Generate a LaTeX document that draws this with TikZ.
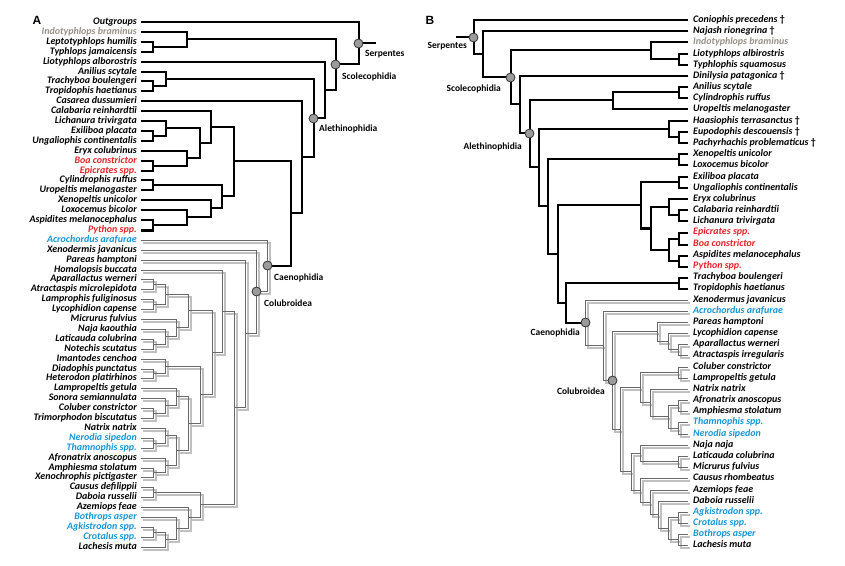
\documentclass[tikz,border=0pt]{standalone}
\usepackage{fontspec}
\setmainfont{Carlito}
\newfontfamily\panelfont{Liberation Sans}
\usetikzlibrary{calc}
\definecolor{sred}{RGB}{230,35,40}
\definecolor{sblue}{RGB}{20,150,215}
\definecolor{sgray}{RGB}{150,145,135}
\definecolor{nodegray}{RGB}{155,155,155}
\definecolor{dgray}{RGB}{105,105,105}
\definecolor{lgray}{RGB}{192,192,192}
\newdimen\mkjoindim
\newcommand\mkjoin[4]{%
  \path ($(#3)!0.5!(#4)$) coordinate (mkjointmp);%
  \pgfextracty{\mkjoindim}{\pgfpointanchor{mkjointmp}{center}}%
  \pgfmathsetmacro\mkjoiny{floor(-\mkjoindim/1.00375)+0.5}%
  \coordinate (#1) at (#2,\mkjoiny);}
\newcommand\gpathA{(LA23.east) -| (aCaen) (aColub) -| (aCaen) (LA24.east) -| (aColub) (cPar) -| (aColub) (LA25.east) -| (cPar) (cO) -| (cPar)
  (cHom) -| (cO) (cVip) -| (cO) (LA26.east) -| (cHom) (cK) -| (cHom) (cA) -| (cK) (cDip) -| (cK) (c27b) -| (cA) (c31) -| (cA)
  (c27) -| (c27b) (c29) -| (c27b) (LA27.east) -| (c27) (LA28.east) -| (c27) (LA29.east) -| (c29) (LA30.east) -| (c29)
  (LA31.east) -| (c31) (c32) -| (c31) (LA32.east) -| (c32) (c33) -| (c32) (LA33.east) -| (c33) (LA34.east) -| (c33)
  (c35) -| (cDip) (cCol) -| (cDip) (LA35.east) -| (c35) (c36) -| (c35) (LA36.east) -| (c36) (LA37.east) -| (c36)
  (c38) -| (cCol) (cNat) -| (cCol) (LA38.east) -| (c38) (c39) -| (c38) (LA39.east) -| (c39) (c40) -| (c39) (LA40.east) -| (c40) (LA41.east) -| (c40)
  (c42) -| (cNat) (c45) -| (cNat) (LA42.east) -| (c42) (c43) -| (c42) (LA43.east) -| (c43) (LA44.east) -| (c43)
  (LA45.east) -| (c45) (c46) -| (c45) (LA46.east) -| (c46) (LA47.east) -| (c46)
  (c48) -| (cVip) (c50) -| (cVip) (LA48.east) -| (c48) (LA49.east) -| (c48) (LA50.east) -| (c50) (c51) -| (c50)
  (LA51.east) -| (c51) (c52b) -| (c51) (c52) -| (c52b) (LA54.east) -| (c52b) (LA52.east) -| (c52) (LA53.east) -| (c52)}
\newcommand\gpathB{(LB26.west) -| (bCaen) (b27) -| (bCaen) (LB27.west) -| (b27) (bColubroidea) -| (b27) (b28) -| (bColubroidea) (bCE) -| (bColubroidea)
  (LB28.west) -| (b28) (b29) -| (b28) (LB29.west) -| (b29) (b30) -| (b29) (LB30.west) -| (b30) (LB31.west) -| (b30)
  (bColub) -| (bCE) (bEV) -| (bCE) (b32) -| (bColub) (b34) -| (bColub) (LB32.west) -| (b32) (LB33.west) -| (b32)
  (LB34.west) -| (b34) (b35b) -| (b34) (b35) -| (b35b) (b37) -| (b35b) (LB35.west) -| (b35) (LB36.west) -| (b35) (LB37.west) -| (b37) (LB38.west) -| (b37)
  (b39) -| (bEV) (b42) -| (bEV) (LB39.west) -| (b39) (b40) -| (b39) (LB40.west) -| (b40) (LB41.west) -| (b40)
  (LB42.west) -| (b42) (b43) -| (b42) (LB43.west) -| (b43) (b44) -| (b43) (LB44.west) -| (b44) (b45b) -| (b44)
  (b45) -| (b45b) (b47) -| (b45b) (LB45.west) -| (b45) (LB46.west) -| (b45) (LB47.west) -| (b47) (LB48.west) -| (b47)}
\begin{document}
\begin{tikzpicture}[x=1bp,y=-1bp,
  leaf/.style={font=\bfseries\itshape\fontsize{10}{12}\selectfont, text height=7pt, text depth=2pt, inner ysep=0pt},
  la/.style={leaf, anchor=east, inner xsep=4bp},
  lb/.style={leaf, anchor=west, inner xsep=5bp},
  blk/.style={draw=black, line width=2bp},
  gline/.style={draw=dgray, line width=1bp},
  gshadow/.style={draw=lgray, line width=1.6bp, transform canvas={shift={(2.3bp,-2.3bp)}}},
  clade/.style={circle, draw=black!80, fill=nodegray, line width=0.8bp, minimum size=9bp, inner sep=0pt},
  cl/.style={font=\bfseries\fontsize{9.5}{11}\selectfont, inner sep=1pt},
  panel/.style={font=\panelfont\bfseries\fontsize{12}{14}\selectfont, inner sep=0pt}]
\useasboundingbox (0,0) rectangle (845,566);
\node[panel] (pA) at (37,20) {A};
\node[panel] (pB) at (430,20) {B};
% ---------------- Tree A leaves
\node[la] (LA1) at (141,22.5) {Outgroups};
\node[la,text=sgray] (LA2) at (141,32.5) {Indotyphlops braminus};
\node[la] (LA3) at (141,42.5) {Leptotyphlops humilis};
\node[la] (LA4) at (141,52.5) {Typhlops jamaicensis};
\node[la] (LA5) at (141,62.5) {Liotyphlops alborostris};
\node[la] (LA6) at (141,72.5) {Anilius scytale};
\node[la] (LA7) at (141,81.5) {Trachyboa boulengeri};
\node[la] (LA8) at (141,91.5) {Tropidophis haetianus};
\node[la] (LA9) at (141,101.5) {Casarea dussumieri};
\node[la] (LA10) at (141,111.5) {Calabaria reinhardtii};
\node[la] (LA11) at (141,121.5) {Lichanura trivirgata};
\node[la] (LA12) at (141,131.5) {Exiliboa placata};
\node[la] (LA13) at (141,141.5) {Ungaliophis continentalis};
\node[la] (LA14) at (141,151.5) {Eryx colubrinus};
\node[la,text=sred] (LA15) at (141,161.5) {Boa constrictor};
\node[la,text=sred] (LA16) at (141,171.5) {Epicrates spp.};
\node[la] (LA17) at (141,180.5) {Cylindrophis ruffus};
\node[la] (LA18) at (141,190.5) {Uropeltis melanogaster};
\node[la] (LA19) at (141,200.5) {Xenopeltis unicolor};
\node[la] (LA20) at (141,210.5) {Loxocemus bicolor};
\node[la] (LA21) at (141,220.5) {Aspidites melanocephalus};
\node[la,text=sred] (LA22) at (141,230.5) {Python spp.};
\node[la,text=sblue] (LA23) at (141,240.5) {Acrochordus arafurae};
\node[la] (LA24) at (141,250.5) {Xenodermis javanicus};
\node[la] (LA25) at (141,260.5) {Pareas hamptoni};
\node[la] (LA26) at (141,270.5) {Homalopsis buccata};
\node[la] (LA27) at (141,279.5) {Aparallactus werneri};
\node[la] (LA28) at (141,289.5) {Atractaspis microlepidota};
\node[la] (LA29) at (141,299.5) {Lamprophis fuliginosus};
\node[la] (LA30) at (141,309.5) {Lycophidion capense};
\node[la] (LA31) at (141,319.5) {Micrurus fulvius};
\node[la] (LA32) at (141,329.5) {Naja kaouthia};
\node[la] (LA33) at (141,339.5) {Laticauda colubrina};
\node[la] (LA34) at (141,349.5) {Notechis scutatus};
\node[la] (LA35) at (141,359.5) {Imantodes cenchoa};
\node[la] (LA36) at (141,369.5) {Diadophis punctatus};
\node[la] (LA37) at (141,378.5) {Heterodon platirhinos};
\node[la] (LA38) at (141,388.5) {Lampropeltis getula};
\node[la] (LA39) at (141,398.5) {Sonora semiannulata};
\node[la] (LA40) at (141,408.5) {Coluber constrictor};
\node[la] (LA41) at (141,418.5) {Trimorphodon biscutatus};
\node[la] (LA42) at (141,428.5) {Natrix natrix};
\node[la,text=sblue] (LA43) at (141,438.5) {Nerodia sipedon};
\node[la,text=sblue] (LA44) at (141,448.5) {Thamnophis spp.};
\node[la] (LA45) at (141,458.5) {Afronatrix anoscopus};
\node[la] (LA46) at (141,468.5) {Amphiesma stolatum};
\node[la] (LA47) at (141,477.5) {Xenochrophis pictigaster};
\node[la] (LA48) at (141,487.5) {Causus defilippii};
\node[la] (LA49) at (141,497.5) {Daboia russelii};
\node[la] (LA50) at (141,507.5) {Azemiops feae};
\node[la,text=sblue] (LA51) at (141,517.5) {Bothrops asper};
\node[la,text=sblue] (LA52) at (141,527.5) {Agkistrodon spp.};
\node[la,text=sblue] (LA53) at (141,537.5) {Crotalus spp.};
\node[la] (LA54) at (141,547.5) {Lachesis muta};
% ---------------- Tree A joins
\mkjoin{a3x4}{152.5}{LA3.east}{LA4.east}
\mkjoin{a2x}{186.5}{LA2.east}{a3x4}
\mkjoin{a7x8}{152.5}{LA7.east}{LA8.east}
\mkjoin{a6x}{165.5}{LA6.east}{a7x8}
\mkjoin{a12x13}{152.5}{LA12.east}{LA13.east}
\mkjoin{a11x}{165.5}{LA11.east}{a12x13}
\mkjoin{a15x16}{152.5}{LA15.east}{LA16.east}
\mkjoin{a14x}{186.5}{LA14.east}{a15x16}
\mkjoin{aLichEryx}{199.5}{a11x}{a14x}
\mkjoin{aCal}{210.5}{LA10.east}{aLichEryx}
\mkjoin{a17x18}{152.5}{LA17.east}{LA18.east}
\mkjoin{a21x22}{152.5}{LA21.east}{LA22.east}
\mkjoin{a20x}{186.5}{LA20.east}{a21x22}
\mkjoin{aXen}{210.5}{LA19.east}{a20x}
\mkjoin{aCyl}{221.5}{a17x18}{aXen}
\mkjoin{aBoid}{233.5}{aCal}{aCyl}
\mkjoin{c27}{153.5}{LA27.east}{LA28.east}
\mkjoin{c29}{153.5}{LA29.east}{LA30.east}
\mkjoin{c27b}{165.5}{c27}{c29}
\mkjoin{c33}{153.5}{LA33.east}{LA34.east}
\mkjoin{c32}{165.5}{LA32.east}{c33}
\mkjoin{c31}{176.5}{LA31.east}{c32}
\mkjoin{cA}{188.5}{c27b}{c31}
\mkjoin{c36}{153.5}{LA36.east}{LA37.east}
\mkjoin{c35}{165.5}{LA35.east}{c36}
\mkjoin{c40}{153.5}{LA40.east}{LA41.east}
\mkjoin{c39}{165.5}{LA39.east}{c40}
\mkjoin{c38}{176.5}{LA38.east}{c39}
\mkjoin{c43}{153.5}{LA43.east}{LA44.east}
\mkjoin{c42}{165.5}{LA42.east}{c43}
\mkjoin{c46}{153.5}{LA46.east}{LA47.east}
\mkjoin{c45}{165.5}{LA45.east}{c46}
\mkjoin{cNat}{176.5}{c42}{c45}
\mkjoin{cCol}{188.5}{c38}{cNat}
\mkjoin{cDip}{200.5}{c35}{cCol}
\mkjoin{cK}{212.5}{cA}{cDip}
\mkjoin{cHom}{222.5}{LA26.east}{cK}
\mkjoin{c48}{153.5}{LA48.east}{LA49.east}
\mkjoin{c52}{153.5}{LA52.east}{LA53.east}
\mkjoin{c52b}{165.5}{c52}{LA54.east}
\mkjoin{c51}{176.5}{LA51.east}{c52b}
\mkjoin{c50}{188.5}{LA50.east}{c51}
\mkjoin{cVip}{200.5}{c48}{c50}
\mkjoin{cO}{234.5}{cHom}{cVip}
\mkjoin{cPar}{245.5}{LA25.east}{cO}
\mkjoin{aColub}{256.5}{LA24.east}{cPar}
\mkjoin{aCaen}{267.5}{LA23.east}{aColub}
\mkjoin{aMacro}{290.5}{aBoid}{aCaen}
\mkjoin{aCas}{301.5}{LA9.east}{aMacro}
\mkjoin{aAleth}{313.5}{a6x}{aCas}
\mkjoin{aLio}{324.5}{LA5.east}{aAleth}
\mkjoin{aScol}{335.5}{a2x}{aLio}
\mkjoin{aSerp}{358.5}{LA1.east}{aScol}
% ---------------- Tree A branches
\draw[gshadow] \gpathA;
\draw[gline] \gpathA;
\draw[blk] (LA1.east) -| (aSerp) (LA2.east) -| (a2x) (LA3.east) -| (a3x4) (LA4.east) -| (a3x4) (a3x4) -| (a2x) (a2x) -| (aScol)
  (LA5.east) -| (aLio) (LA6.east) -| (a6x) (LA7.east) -| (a7x8) (LA8.east) -| (a7x8) (a7x8) -| (a6x) (a6x) -| (aAleth)
  (LA9.east) -| (aCas) (LA10.east) -| (aCal) (LA11.east) -| (a11x) (LA12.east) -| (a12x13) (LA13.east) -| (a12x13) (a12x13) -| (a11x)
  (a11x) -| (aLichEryx) (LA14.east) -| (a14x) (LA15.east) -| (a15x16) (LA16.east) -| (a15x16) (a15x16) -| (a14x) (a14x) -| (aLichEryx)
  (aLichEryx) -| (aCal) (aCal) -| (aBoid) (LA17.east) -| (a17x18) (LA18.east) -| (a17x18) (a17x18) -| (aCyl)
  (LA19.east) -| (aXen) (LA20.east) -| (a20x) (LA21.east) -| (a21x22) (LA22.east) -| (a21x22) (a21x22) -| (a20x) (a20x) -| (aXen)
  (aXen) -| (aCyl) (aCyl) -| (aBoid) (aBoid) -| (aMacro) (aCaen) -| (aMacro) (aMacro) -| (aCas) (aCas) -| (aAleth)
  (aAleth) -| (aLio) (aLio) -| (aScol) (aScol) -| (aSerp) (aSerp) -- ++(17,0) coordinate (aRoot);
\node[clade] (kSerpA) at (aSerp) {};
\node[clade] (kScolA) at (aScol) {};
\node[clade] (kAlethA) at (aAleth) {};
\node[clade] (kCaenA) at (aCaen) {};
\node[clade] (kColA) at (aColub) {};
\node[cl,anchor=west] (tSerpA) at (364,54) {Serpentes};
\node[cl,anchor=west] (tScolA) at (341,77) {Scolecophidia};
\node[cl,anchor=west] (tAlethA) at (318,129) {Alethinophidia};
\node[cl,anchor=west] (tCaenA) at (273,278) {Caenophidia};
\node[cl,anchor=west] (tColA) at (263,303) {Colubroidea};
% ---------------- Tree B leaves
\node[lb] (LB1) at (688,20.5) {Coniophis precedens \textup{†}};
\node[lb] (LB2) at (688,31.5) {Najash rionegrina \textup{†}};
\node[lb,text=sgray] (LB3) at (688,42.5) {Indotyphlops braminus};
\node[lb] (LB4) at (688,54.5) {Liotyphlops albirostris};
\node[lb] (LB5) at (688,65.5) {Typhlophis squamosus};
\node[lb] (LB6) at (688,76.5) {Dinilysia patagonica \textup{†}};
\node[lb] (LB7) at (688,87.5) {Anilius scytale};
\node[lb] (LB8) at (688,98.5) {Cylindrophis ruffus};
\node[lb] (LB9) at (688,109.5) {Uropeltis melanogaster};
\node[lb] (LB10) at (688,121.5) {Haasiophis terrasanctus \textup{†}};
\node[lb] (LB11) at (688,132.5) {Eupodophis descouensis \textup{†}};
\node[lb] (LB12) at (688,143.5) {Pachyrhachis problematicus \textup{†}};
\node[lb] (LB13) at (688,154.5) {Xenopeltis unicolor};
\node[lb] (LB14) at (688,165.5) {Loxocemus bicolor};
\node[lb] (LB15) at (688,177.5) {Exiliboa placata};
\node[lb] (LB16) at (688,188.5) {Ungaliophis continentalis};
\node[lb] (LB17) at (688,199.5) {Eryx colubrinus};
\node[lb] (LB18) at (688,210.5) {Calabaria reinhardtii};
\node[lb] (LB19) at (688,221.5) {Lichanura trivirgata};
\node[lb,text=sred] (LB20) at (688,232.5) {Epicrates spp.};
\node[lb,text=sred] (LB21) at (688,244.5) {Boa constrictor};
\node[lb] (LB22) at (688,255.5) {Aspidites melanocephalus};
\node[lb,text=sred] (LB23) at (688,266.5) {Python spp.};
\node[lb] (LB24) at (688,277.5) {Trachyboa boulengeri};
\node[lb] (LB25) at (688,288.5) {Tropidophis haetianus};
\node[lb] (LB26) at (688,300.5) {Xenodermus javanicus};
\node[lb,text=sblue] (LB27) at (688,311.5) {Acrochordus arafurae};
\node[lb] (LB28) at (688,322.5) {Pareas hamptoni};
\node[lb] (LB29) at (688,333.5) {Lycophidion capense};
\node[lb] (LB30) at (688,344.5) {Aparallactus werneri};
\node[lb] (LB31) at (688,355.5) {Atractaspis irregularis};
\node[lb] (LB32) at (688,367.5) {Coluber constrictor};
\node[lb] (LB33) at (688,378.5) {Lampropeltis getula};
\node[lb] (LB34) at (688,389.5) {Natrix natrix};
\node[lb] (LB35) at (688,400.5) {Afronatrix anoscopus};
\node[lb] (LB36) at (688,411.5) {Amphiesma stolatum};
\node[lb,text=sblue] (LB37) at (688,422.5) {Thamnophis spp.};
\node[lb,text=sblue] (LB38) at (688,434.5) {Nerodia sipedon};
\node[lb] (LB39) at (688,445.5) {Naja naja};
\node[lb] (LB40) at (688,456.5) {Laticauda colubrina};
\node[lb] (LB41) at (688,467.5) {Micrurus fulvius};
\node[lb] (LB42) at (688,478.5) {Causus rhombeatus};
\node[lb] (LB43) at (688,490.5) {Azemiops feae};
\node[lb] (LB44) at (688,501.5) {Daboia russelii};
\node[lb,text=sblue] (LB45) at (688,512.5) {Agkistrodon spp.};
\node[lb,text=sblue] (LB46) at (688,523.5) {Crotalus spp.};
\node[lb,text=sblue] (LB47) at (688,534.5) {Bothrops asper};
\node[lb] (LB48) at (688,545.5) {Lachesis muta};
% ---------------- Tree B joins
\mkjoin{b4}{678.5}{LB4.west}{LB5.west}
\mkjoin{b3}{650.5}{LB3.west}{b4}
\mkjoin{b7}{678.5}{LB7.west}{LB8.west}
\mkjoin{b7b}{612.5}{b7}{LB9.west}
\mkjoin{b11}{678.5}{LB11.west}{LB12.west}
\mkjoin{b10}{668.5}{LB10.west}{b11}
\mkjoin{b13}{678.5}{LB13.west}{LB14.west}
\mkjoin{b15}{678.5}{LB15.west}{LB16.west}
\mkjoin{b18}{678.5}{LB18.west}{LB19.west}
\mkjoin{b17}{668.5}{LB17.west}{b18}
\mkjoin{b20}{678.5}{LB20.west}{LB21.west}
\mkjoin{b22}{678.5}{LB22.west}{LB23.west}
\mkjoin{b20b}{668.5}{b20}{b22}
\mkjoin{bBoi}{650.5}{b17}{b20b}
\mkjoin{bBoa}{640.5}{b15}{bBoi}
\mkjoin{b24}{678.5}{LB24.west}{LB25.west}
\mkjoin{b30}{678.5}{LB30.west}{LB31.west}
\mkjoin{b29}{668.5}{LB29.west}{b30}
\mkjoin{b28}{657.5}{LB28.west}{b29}
\mkjoin{b32}{678.5}{LB32.west}{LB33.west}
\mkjoin{b35}{678.5}{LB35.west}{LB36.west}
\mkjoin{b37}{678.5}{LB37.west}{LB38.west}
\mkjoin{b35b}{668.5}{b35}{b37}
\mkjoin{b34}{650.5}{LB34.west}{b35b}
\mkjoin{bColub}{640.5}{b32}{b34}
\mkjoin{b40}{678.5}{LB40.west}{LB41.west}
\mkjoin{b39}{640.5}{LB39.west}{b40}
\mkjoin{b45}{678.5}{LB45.west}{LB46.west}
\mkjoin{b47}{678.5}{LB47.west}{LB48.west}
\mkjoin{b45b}{668.5}{b45}{b47}
\mkjoin{b44}{658.5}{LB44.west}{b45b}
\mkjoin{b43}{650.5}{LB43.west}{b44}
\mkjoin{b42}{640.5}{LB42.west}{b43}
\mkjoin{bEV}{631.5}{b39}{b42}
\mkjoin{bCE}{620.5}{bColub}{bEV}
\mkjoin{bColubroidea}{612.5}{b28}{bCE}
\mkjoin{b27}{603.5}{LB27.west}{bColubroidea}
\mkjoin{bCaen}{585.5}{LB26.west}{b27}
\mkjoin{bTrop}{565.5}{b24}{bCaen}
\mkjoin{bMac}{557.5}{bBoa}{bTrop}
\mkjoin{bXen}{547.5}{b13}{bMac}
\mkjoin{bHaa}{538.5}{b10}{bXen}
\mkjoin{bAleth}{529.5}{b7b}{bHaa}
\mkjoin{bDin}{519.5}{LB6.west}{bAleth}
\mkjoin{bScol}{510.5}{b3}{bDin}
\mkjoin{bNaj}{482.5}{LB2.west}{bScol}
\mkjoin{bSerp}{473.5}{LB1.west}{bNaj}
% ---------------- Tree B branches
\draw[gshadow] \gpathB;
\draw[gline] \gpathB;
\draw[blk] (LB1.west) -| (bSerp) (LB2.west) -| (bNaj) (LB3.west) -| (b3) (LB4.west) -| (b4) (LB5.west) -| (b4) (b4) -| (b3) (b3) -| (bScol)
  (LB6.west) -| (bDin) (LB7.west) -| (b7) (LB8.west) -| (b7) (b7) -| (b7b) (LB9.west) -| (b7b) (b7b) -| (bAleth)
  (LB10.west) -| (b10) (LB11.west) -| (b11) (LB12.west) -| (b11) (b11) -| (b10) (b10) -| (bHaa)
  (LB13.west) -| (b13) (LB14.west) -| (b13) (b13) -| (bXen)
  (LB15.west) -| (b15) (LB16.west) -| (b15) (b15) -| (bBoa) (LB17.west) -| (b17) (LB18.west) -| (b18) (LB19.west) -| (b18) (b18) -| (b17) (b17) -| (bBoi)
  (LB20.west) -| (b20) (LB21.west) -| (b20) (b20) -| (b20b) (LB22.west) -| (b22) (LB23.west) -| (b22) (b22) -| (b20b) (b20b) -| (bBoi) (bBoi) -| (bBoa) (bBoa) -| (bMac)
  (LB24.west) -| (b24) (LB25.west) -| (b24) (b24) -| (bTrop) (bCaen) -| (bTrop) (bTrop) -| (bMac) (bMac) -| (bXen) (bXen) -| (bHaa)
  (bHaa) -| (bAleth) (bAleth) -| (bDin) (bDin) -| (bScol) (bScol) -| (bNaj) (bNaj) -| (bSerp) (bSerp) -- ++(-18,0) coordinate (bRoot);
\node[clade] (kSerpB) at (bSerp) {};
\node[clade] (kScolB) at (bScol) {};
\node[clade] (kAlethB) at (bAleth) {};
\node[clade] (kCaenB) at (bCaen) {};
\node[clade] (kColB) at (bColubroidea) {};
\node[cl,anchor=east] (tSerpB) at (468,46) {Serpentes};
\node[cl,anchor=east] (tScolB) at (502,89) {Scolecophidia};
\node[cl,anchor=east] (tAlethB) at (523,147) {Alethinophidia};
\node[cl,anchor=east] (tCaenB) at (581,333) {Caenophidia};
\node[cl,anchor=east] (tColB) at (606,391) {Colubroidea};
\end{tikzpicture}
\end{document}
